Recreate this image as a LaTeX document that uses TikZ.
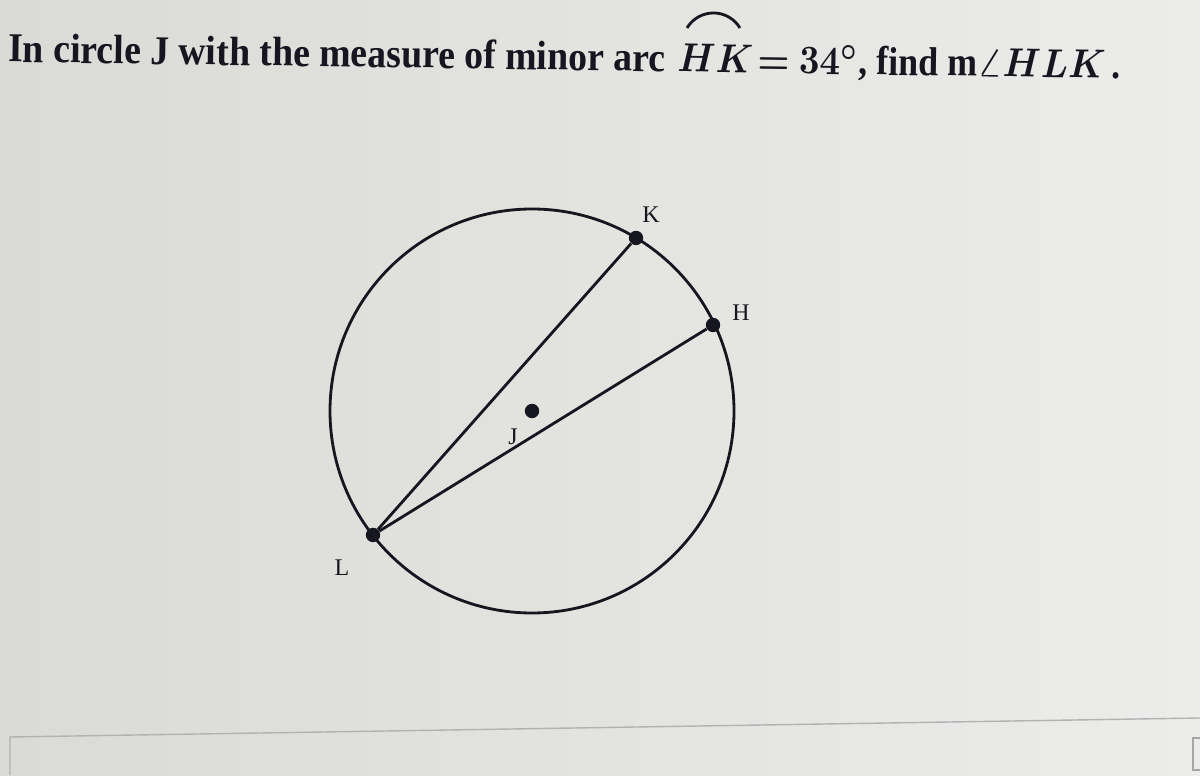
\documentclass[tikz,border=0pt]{standalone}
\usepackage{amsmath}
\usepackage{fontspec}
\setmainfont{Liberation Serif}
\usepackage{tikz}

\definecolor{paper}{RGB}{218,218,214}
\definecolor{paperhi}{RGB}{236,236,234}
\definecolor{ink}{RGB}{22,22,32}

\begin{document}
\begin{tikzpicture}[x=0.025cm, y=0.025cm,
    pt/.style={circle, fill=ink, inner sep=0pt, minimum size=0.36cm},
    lbl/.style={font=\fontsize{17}{20}\selectfont, text=ink, inner sep=0pt},
    qtext/.style={anchor=base west, inner sep=0pt, text=ink, rotate=-0.83},
    chord/.style={draw=ink, line width=2pt}]
    \useasboundingbox (0,0) rectangle (1200,775);
    \shade[left color=paper, right color=paperhi] (0,0) rectangle (1200,775);

    % Question
    \node[qtext] (q1) at (8,713)
        {\resizebox{16.425cm}{0.72cm}{\bfseries In circle J with the measure of minor arc}};
    \node[qtext] (q2) at (677,703)
        {\resizebox{11.075cm}{0.72cm}{\boldmath$HK\mskip2mu{=}\mskip4mu34^\circ$\bfseries, find m$\angle HLK$\,.}};
    \draw[ink, line width=2pt] ([shift={(10,44)}]q2.base west) arc (149:31:30.9);

    % Nodes
    \node[pt] (J) at (532,364) {};
    \node[pt] (K) at (636,537) {};
    \node[pt] (H) at (713,450) {};
    \node[pt] (L) at (373,240) {};

    \node[lbl] (Kl) at (651,560) {K};
    \node[lbl] (Hl) at (741,462) {H};
    \node[lbl] (Ll) at (342,207) {L};
    \node[lbl] (Jl) at (513,338) {J};

    % Lines
    \draw[chord] (J.center) circle (202);
    \draw[chord] (L) -- (K);
    \draw[chord] (L) -- (H);

    % Answer box
    \draw[gray!60, line width=1pt] (10,0) -- (10,38) -- (1200,57);
    \draw[gray!70, line width=1pt, fill=paperhi] (1193,5) rectangle (1206,37);
\end{tikzpicture}
\end{document}
